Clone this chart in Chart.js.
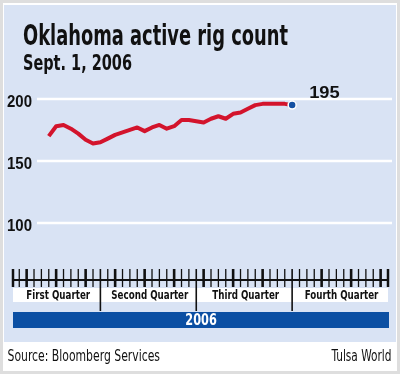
<!DOCTYPE html>
<html>
<head>
<meta charset="utf-8">
<script src="https://cdn.jsdelivr.net/npm/chart.js@4.4.1/dist/chart.umd.min.js"></script>
<style>
  html, body { margin: 0; padding: 0; background: #fff; }
  #wrap { width: 400px; height: 374px; }
</style>
</head>
<body>
<div id="wrap"><canvas id="rigChart" width="400" height="374"></canvas></div>
<script>
// weekly readings, 2006 (week number of the year)
const weeks = [6, 7, 8, 9, 10, 11, 12, 13, 14, 15, 16, 17, 18, 19, 20, 21, 22,
  23, 24, 25, 26, 27, 28, 29, 30, 31, 32, 33, 34, 35, 36, 37, 38, 39]
const rigCounts = [170, 178, 179, 176, 172, 167, 164, 165, 168, 171, 173, 175, 177, 174, 177, 179, 176,
  178, 183, 183, 182, 181, 184, 186, 184, 188, 189, 192, 195, 196, 196, 196, 196, 195]
const yTickValues = [100, 150, 200]
const quarterNames = ['First Quarter', 'Second Quarter', 'Third Quarter', 'Fourth Quarter']
const quarterStarts = [0, 13, 26, 39, 52]
const yearLabel = '2006'

const titleText = 'Oklahoma active rig count'
const subtitleText = 'Sept. 1, 2006'
const sourceText = 'Source: Bloomberg Services'
const creditText = 'Tulsa World'

const NARROW = '"Liberation Sans Narrow", "DejaVu Sans Condensed", "Liberation Sans", Arial, sans-serif'
const WIDE = '"Liberation Sans", Arial, sans-serif'

// draw text squeezed/stretched to a given width
function fitText (ctx, text, x, y, width, font, align) {
  ctx.save()
  ctx.font = font
  const s = width / ctx.measureText(text).width
  ctx.translate(x, y)
  ctx.scale(s, 1)
  ctx.textAlign = align || 'left'
  ctx.textBaseline = 'alphabetic'
  ctx.fillText(text, 0, 0)
  ctx.restore()
}

const graphicPlugin = {
  id: 'graphic',
  beforeDraw (chart) {
    const ctx = chart.ctx
    const xs = chart.scales.x
    const ys = chart.scales.y
    const area = chart.chartArea
    const axisY = area.bottom

    // frame and panel
    ctx.save()
    ctx.fillStyle = '#dedede'
    ctx.fillRect(0, 0, 400, 374)
    ctx.fillStyle = '#ffffff'
    ctx.fillRect(3, 3, 394, 368)
    ctx.fillStyle = '#d9e3f4'
    ctx.fillRect(4, 5, 392, 337)

    // titles
    ctx.fillStyle = '#111'
    fitText(ctx, titleText, 23, 45, 265, 'bold 29px ' + NARROW)
    fitText(ctx, subtitleText, 23, 69.5, 109, 'bold 22px ' + NARROW)

    // horizontal grid lines with labels
    ctx.font = 'bold 16px ' + WIDE
    const labelScale = 25 / ctx.measureText('200').width
    yTickValues.forEach(v => {
      const y = ys.getPixelForValue(v)
      ctx.strokeStyle = '#ffffff'
      ctx.lineWidth = 2.5
      ctx.beginPath()
      ctx.moveTo(37, y)
      ctx.lineTo(392, y)
      ctx.stroke()
      ctx.save()
      ctx.translate(32, y + 7.7)
      ctx.scale(labelScale, 1)
      ctx.textAlign = 'right'
      ctx.fillStyle = '#111'
      ctx.fillText(String(v), 0, 0)
      ctx.restore()
    })

    // quarter label band
    const left = area.left
    const right = area.right
    ctx.fillStyle = '#ffffff'
    ctx.fillRect(left, axisY + 8, right - left, 14)

    // time line and week ticks
    ctx.strokeStyle = '#111'
    ctx.lineWidth = 2
    ctx.beginPath()
    ctx.moveTo(left, axisY)
    ctx.lineTo(right, axisY)
    ctx.stroke()

    const tickWeeks = [xs.min]
    for (let w = Math.ceil(xs.min); w <= xs.max; w++) tickWeeks.push(w)
    tickWeeks.forEach(w => {
      const x = xs.getPixelForValue(w)
      const isQuarter = quarterStarts.includes(w) && w > 0 && w < 52
      const isEnd = w === xs.min || w === xs.max
      const isBold = !isQuarter && !isEnd && Number.isInteger(w) && w % 4 === 3
      ctx.lineWidth = isEnd ? 2.5 : isBold ? 2.6 : isQuarter ? 1.6 : 1.3
      ctx.beginPath()
      ctx.moveTo(x, axisY - 11)
      ctx.lineTo(x, isQuarter ? axisY + 31 : axisY + 7)
      ctx.stroke()
    })

    // quarter names
    ctx.font = 'bold 13px ' + NARROW
    const qScale = 77 / ctx.measureText('Second Quarter').width
    ctx.fillStyle = '#111'
    quarterNames.forEach((name, i) => {
      const a = Math.max(xs.getPixelForValue(quarterStarts[i]), left)
      const b = xs.getPixelForValue(quarterStarts[i + 1])
      ctx.save()
      ctx.translate((a + b) / 2 + 1.5, axisY + 19.3)
      ctx.scale(qScale, 1)
      ctx.textAlign = 'center'
      ctx.fillText(name, 0, 0)
      ctx.restore()
    })

    // year band
    ctx.fillStyle = '#0b4fa3'
    ctx.fillRect(left, axisY + 32, right - left + 1, 16)
    ctx.fillStyle = '#ffffff'
    fitText(ctx, yearLabel, (left + right) / 2 + 0.5, axisY + 45, 31.5, 'bold 15px ' + NARROW, 'center')

    // footer
    ctx.fillStyle = '#111'
    fitText(ctx, sourceText, 7.5, 361, 152.5, '15px ' + NARROW)
    fitText(ctx, creditText, 391.5, 361, 60, '15px ' + NARROW, 'right')
    ctx.restore()
  },
  afterDatasetsDraw (chart) {
    const ctx = chart.ctx
    const meta = chart.getDatasetMeta(0)
    const last = meta.data[meta.data.length - 1]
    ctx.save()
    ctx.fillStyle = '#111'
    fitText(ctx, String(rigCounts[rigCounts.length - 1]), last.x + 17, last.y - 7, 30.5, 'bold 17px ' + WIDE)
    ctx.restore()
  }
}

const lastIndex = rigCounts.length - 1

new Chart(document.getElementById('rigChart').getContext('2d'), {
  type: 'line',
  data: {
    datasets: [
      {
        label: 'Active rigs',
        data: weeks.map((w, i) => ({ x: w, y: rigCounts[i] })),
        borderColor: '#d3142c',
        borderWidth: 4,
        borderJoinStyle: 'round',
        tension: 0,
        pointRadius: ctx => ctx.dataIndex === lastIndex ? 4 : 0,
        pointBackgroundColor: '#1551a3',
        pointBorderColor: '#ffffff',
        pointBorderWidth: 1.5
      }
    ]
  },
  options: {
    responsive: false,
    animation: false,
    events: [],
    layout: { padding: { left: 13, right: 12, top: 86.5, bottom: 94 } },
    plugins: {
      legend: { display: false },
      tooltip: { enabled: false }
    },
    scales: {
      x: { type: 'linear', min: 1.15, max: 52, display: false },
      y: { min: 54, max: 210, display: false }
    }
  },
  plugins: [graphicPlugin]
})
</script>
</body>
</html>
